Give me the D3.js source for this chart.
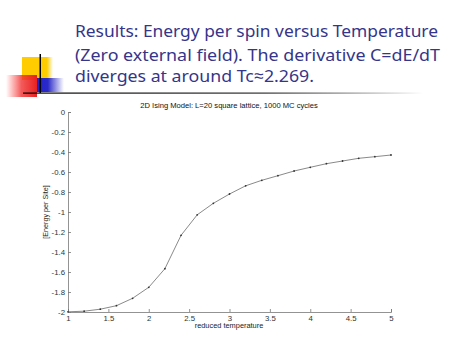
<!DOCTYPE html>
<html><head><meta charset="utf-8">
<script src="https://cdn.jsdelivr.net/npm/d3@7"></script>
<style>body{margin:0;background:#fff}svg{display:block}</style>
</head><body>
<script>
const temperatures = [1.0,1.2,1.4,1.6,1.8,2.0,2.2,2.4,2.6,2.8,3.0,3.2,3.4,3.6,3.8,4.0,4.2,4.4,4.6,4.8,5.0];
const energies = [-1.998,-1.992,-1.972,-1.937,-1.863,-1.753,-1.567,-1.233,-1.028,-0.913,-0.82,-0.738,-0.683,-0.637,-0.59,-0.553,-0.517,-0.49,-0.463,-0.447,-0.43];
const xTicks = [1,1.5,2,2.5,3,3.5,4,4.5,5];
const yTicks = [0,-0.2,-0.4,-0.6,-0.8,-1,-1.2,-1.4,-1.6,-1.8,-2];
const titleLines = ["Results: Energy per spin versus Temperature","(Zero external field). The derivative C=dE/dT","diverges at around Tc\u22482.269."];
const chartTitle = "2D Ising Model:  L=20 square lattice, 1000 MC cycles";

const W=474,H=355;
const svg=d3.select("body").append("svg").attr("width",W).attr("height",H);
const defs=svg.append("defs");
function grad(id,stops){const g=defs.append("linearGradient").attr("id",id);stops.forEach(s=>g.append("stop").attr("offset",s[0]).attr("stop-color",s[1]).attr("stop-opacity",s[2]));}
grad("gy",[[0,"#ffcc00",1],[0.8,"#ffcc00",1],[1,"#ffcc00",0]]);
grad("gr",[[0,"#ff3333",0],[0.5,"#f03030",0.8],[1,"#e82020",1]]);
grad("gb",[[0,"#2222cc",1],[0.4,"#2a2ac8",1],[1,"#3333cc",0]]);
grad("gl",[[0,"#000",1],[0.6,"#333",1],[1,"#000",0]]);

// decoration
svg.append("rect").attr("x",22).attr("y",57).attr("width",31).attr("height",23).attr("fill","url(#gy)");
svg.append("rect").attr("x",6).attr("y",75).attr("width",31).attr("height",22).attr("fill","url(#gr)");
svg.append("rect").attr("x",37).attr("y",78).attr("width",27).attr("height",14).attr("fill","url(#gb)");
svg.append("rect").attr("x",39.5).attr("y",54).attr("width",1.5).attr("height",39).attr("fill","#000");
svg.append("rect").attr("x",23).attr("y",92.5).attr("width",400).attr("height",1.2).attr("fill","url(#gl)");

// slide title
const tl=[[75,37,363],[75,61,365],[75,82,239]];
titleLines.forEach((t,i)=>{
  svg.append("text").attr("x",tl[i][0]).attr("y",tl[i][1]).text(t)
   .attr("font-family","Noto Sans, Open Sans, sans-serif").attr("font-size",17)
   .attr("fill","#35358a").attr("textLength",tl[i][2]).attr("lengthAdjust","spacingAndGlyphs");
});

// chart
const x=d3.scaleLinear().domain([1,5]).range([68,391]);
const y=d3.scaleLinear().domain([-2,0]).range([312,112]);
const g=svg.append("g").attr("font-family","Liberation Sans, Arial, sans-serif");

g.append("text").attr("x",229).attr("y",108).attr("text-anchor","middle").attr("font-size",7.6).attr("fill","#111").text(chartTitle);

const xa=g.append("g").attr("transform","translate(0,312)")
 .call(d3.axisBottom(x).tickValues(xTicks).tickSize(-3).tickPadding(3).tickFormat(d3.format("")));
const ya=g.append("g").attr("transform","translate(68,0)")
 .call(d3.axisLeft(y).tickValues(yTicks).tickSize(-3).tickPadding(3).tickFormat(d=>d3.format("")(d).replace("\u2212","-")));
[xa,ya].forEach(a=>{
  a.select(".domain").attr("stroke","#777").attr("stroke-width",0.8);
  a.selectAll(".tick line").attr("stroke","#777").attr("stroke-width",0.8);
  a.selectAll("text").attr("font-size",7.8).attr("fill","#333").attr("font-family","Liberation Sans, Arial, sans-serif");
});

const pts=temperatures.map((t,i)=>[t,energies[i]]);
g.append("path").datum(pts).attr("fill","none").attr("stroke","#8a8a8a").attr("stroke-width",1)
 .attr("d",d3.line().x(d=>x(d[0])).y(d=>y(d[1])));
g.selectAll("circle.m").data(pts).enter().append("circle").attr("class","m")
 .attr("cx",d=>x(d[0])).attr("cy",d=>y(d[1])).attr("r",0.9).attr("fill","#333");

g.append("text").attr("x",229).attr("y",328).attr("text-anchor","middle").attr("font-size",7.4).attr("fill","#222").text("reduced temperature");
g.append("text").attr("transform","translate(48,212) rotate(-90)").attr("text-anchor","middle").attr("font-size",7.2).attr("fill","#222").text("[Energy per Site]");
</script>
</body></html>
